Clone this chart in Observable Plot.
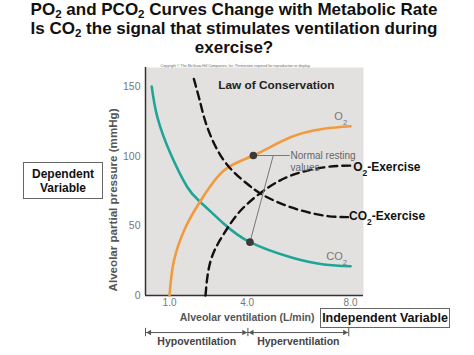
<!DOCTYPE html>
<html>
<head>
<meta charset="utf-8">
<script src="https://cdn.jsdelivr.net/npm/d3@7"></script>
<script src="https://cdn.jsdelivr.net/npm/@observablehq/plot@0.6"></script>
<style>
  html, body { margin: 0; padding: 0; background: #fff; }
  body { font-family: "Liberation Sans", Arial, sans-serif; }
  #wrap { position: relative; width: 474px; height: 355px; overflow: hidden; }
  #chart { position: absolute; left: 0; top: 0; }
  .title { position: absolute; left: 0; top: 0px; width: 468px; text-align: center;
           font-weight: bold; font-size: 17px; line-height: 19px; color: #111; }
  .title sub { font-size: 0.68em; vertical-align: -0.28em; line-height: 0; }
  .box { position: absolute; border: 1px solid #666; background: #fff; box-sizing: border-box;
         font-weight: bold; font-size: 12px; color: #111; text-align: center; }
</style>
</head>
<body>
<div id="wrap">
  <div id="chart"></div>
  <div class="title">PO<sub>2</sub> and PCO<sub>2</sub> Curves Change with Metabolic Rate<br>Is CO<sub>2</sub> the signal that stimulates ventilation during<br>exercise?</div>
  <div class="box" style="left:23px; top:162px; width:80px; height:37px; line-height:14px; padding-top:4px;">Dependent<br>Variable</div>
  <div class="box" style="left:320px; top:308px; width:130px; height:20px; line-height:18px; font-size:12.5px;">Independent Variable</div>
</div>
<script>
// ---- data ----
const o2X  = [1.0, 1.17, 1.62, 2.2, 3.1, 4.24, 5.68, 6.97, 8.0];
const o2Y  = [0, 25, 49, 68, 89.7, 100.5, 113.6, 119.7, 121.5];
const co2X = [0.31, 0.53, 1.04, 1.69, 2.2, 3.1, 4.11, 5.68, 6.97, 8.0];
const co2Y = [150, 128, 101.7, 77.7, 67, 51.5, 38.3, 27.5, 22.3, 21];
const o2ExX = [2.39, 2.59, 3.1, 3.75, 4.65, 5.68, 6.97, 8.05];
const o2ExY = [0, 25, 44.3, 61, 75.4, 86, 92, 93.3];
const co2ExX = [1.94, 2.2, 2.46, 3.1, 4.0, 4.65, 5.68, 6.97, 7.9];
const co2ExY = [155.5, 137.6, 120.8, 97, 80.2, 71.8, 63.4, 57.4, 56.3];
const restX = [4.24, 4.11];
const restY = [100.5, 38.3];
const yTicks = [0, 50, 100, 150];
const xTicks = [1, 4, 8];
const seriesLabels = ["O_2", "CO_2"];
const exerciseLabels = ["O_2-Exercise", "CO_2-Exercise"];
const rangeLabels = ["Hypoventilation", "Hyperventilation"];
const rangeBounds = [0.07, 4.03, 7.93];

const toPts = (xs, ys) => xs.map((x, i) => ({x, y: ys[i]}));
const FONT = "Liberation Sans, Arial, sans-serif";
const arrowY = -26.6;

const chart = Plot.plot({
  width: 474, height: 355,
  marginLeft: 145, marginRight: 111, marginTop: 67, marginBottom: 60,
  style: {fontFamily: FONT, background: "transparent", overflow: "visible"},
  x: {domain: [0.07, 8.5]},
  y: {domain: [0, 163.7]},
  marks: [
    Plot.frame({fill: "#e3e1df", stroke: null}),
    Plot.ruleX([0.07], {stroke: "#333", strokeWidth: 1.5}),
    Plot.ruleY([0], {stroke: "#333", strokeWidth: 1.5}),
    Plot.axisY({ticks: yTicks, tickSize: 0, tickPadding: 5, label: null, fill: "#777", fontSize: 10.5}),
    Plot.axisX({ticks: xTicks, tickSize: 0, tickPadding: 3, tickFormat: d => d.toFixed(1), label: null, fill: "#777", fontSize: 10}),
    // curves
    Plot.line(toPts(co2X, co2Y), {x: "x", y: "y", stroke: "#1fa597", strokeWidth: 2.6, curve: "natural"}),
    Plot.line(toPts(o2X, o2Y), {x: "x", y: "y", stroke: "#f29a3e", strokeWidth: 2.6, curve: "natural"}),
    Plot.line(toPts(o2ExX, o2ExY), {x: "x", y: "y", stroke: "#111", strokeWidth: 2.4, strokeDasharray: "8,5", curve: "natural"}),
    Plot.line(toPts(co2ExX, co2ExY), {x: "x", y: "y", stroke: "#111", strokeWidth: 2.4, strokeDasharray: "8,5", curve: "natural"}),
    // normal resting connectors
    Plot.line([{x: restX[0], y: restY[0]}, {x: 5.63, y: restY[0]}], {x: "x", y: "y", stroke: "#777", strokeWidth: 1}),
    Plot.line([{x: 5.01, y: restY[0]}, {x: restX[1], y: restY[1]}], {x: "x", y: "y", stroke: "#777", strokeWidth: 1}),
    Plot.dot(toPts(restX, restY), {x: "x", y: "y", r: 3.8, fill: "#3a3a3a", stroke: null}),
    Plot.text(["Normal resting\nvalues"], {x: 5.68, y: 96.5, text: d => d, textAnchor: "start", fill: "#666", fontSize: 10, lineHeight: 1.2}),
    // series labels
    Plot.text([seriesLabels[0]], {x: 7.62, y: 128.5, text: d => d, fill: "#777", fontSize: 11}),
    Plot.text([seriesLabels[1]], {x: 7.46, y: 28, text: d => d, fill: "#777", fontSize: 11}),
    Plot.text([exerciseLabels[0]], {x: 8.1, y: 92.2, text: d => d, textAnchor: "start", fill: "#111", fontSize: 12, fontWeight: "bold"}),
    Plot.text([exerciseLabels[1]], {x: 7.94, y: 56.7, text: d => d, textAnchor: "start", fill: "#111", fontSize: 12, fontWeight: "bold"}),
    Plot.text(["Law of Conservation"], {x: 5.13, y: 150.7, text: d => d, fill: "#222", fontSize: 11.8, fontWeight: "bold"}),
    Plot.text(["Copyright \u00a9 The McGraw-Hill Companies, Inc. Permission required for reproduction or display."], {x: 3.55, y: 164.6, text: d => d, fill: "#666", fontSize: 3.6}),
    // axis titles
    Plot.text(["Alveolar partial pressure (mmHg)"], {x: -1.18, y: 68.6, rotate: -90, text: d => d, fill: "#555", fontSize: 11.6, fontWeight: "bold"}),
    Plot.text(["Alveolar ventilation (L/min)"], {x: 4.0, y: -16, text: d => d, fill: "#555", fontSize: 10.5, fontWeight: "bold"}),
    // hypo / hyper ranges
    Plot.ruleY([0, 1], {y: arrowY, x1: i => rangeBounds[i], x2: i => rangeBounds[i + 1], stroke: "#555", strokeWidth: 1}),
    Plot.ruleX(rangeBounds, {x: d => d, y1: arrowY - 3, y2: arrowY + 3, stroke: "#555", strokeWidth: 1}),
    Plot.dot([0, 1], {x: i => rangeBounds[i], y: arrowY, dx: 4, symbol: "triangle2", rotate: -90, r: 2.6, fill: "#555", stroke: null}),
    Plot.dot([0, 1], {x: i => rangeBounds[i + 1], y: arrowY, dx: -4, symbol: "triangle2", rotate: 90, r: 2.6, fill: "#555", stroke: null}),
    Plot.text([0, 1], {x: i => (rangeBounds[i] + rangeBounds[i + 1]) / 2, y: -32.8, text: i => rangeLabels[i], fill: "#444", fontSize: 10.5, fontWeight: "bold"})
  ]
});

// subscripts: "_2" -> subscript 2
const NS = "http://www.w3.org/2000/svg";
chart.querySelectorAll("text").forEach(t => {
  const leaves = t.querySelector("tspan") ? [...t.querySelectorAll("tspan")] : [t];
  leaves.forEach(el => {
    const s = el.textContent;
    if (!s.includes("_2")) return;
    el.textContent = "";
    s.split(/(_2)/).forEach(part => {
      if (!part) return;
      const ts = document.createElementNS(NS, "tspan");
      if (part === "_2") {
        ts.textContent = "2";
        ts.setAttribute("baseline-shift", "sub");
        ts.setAttribute("font-size", "70%");
      } else ts.textContent = part;
      el.appendChild(ts);
    });
  });
});

document.getElementById("chart").appendChild(chart);
</script>
</body>
</html>
